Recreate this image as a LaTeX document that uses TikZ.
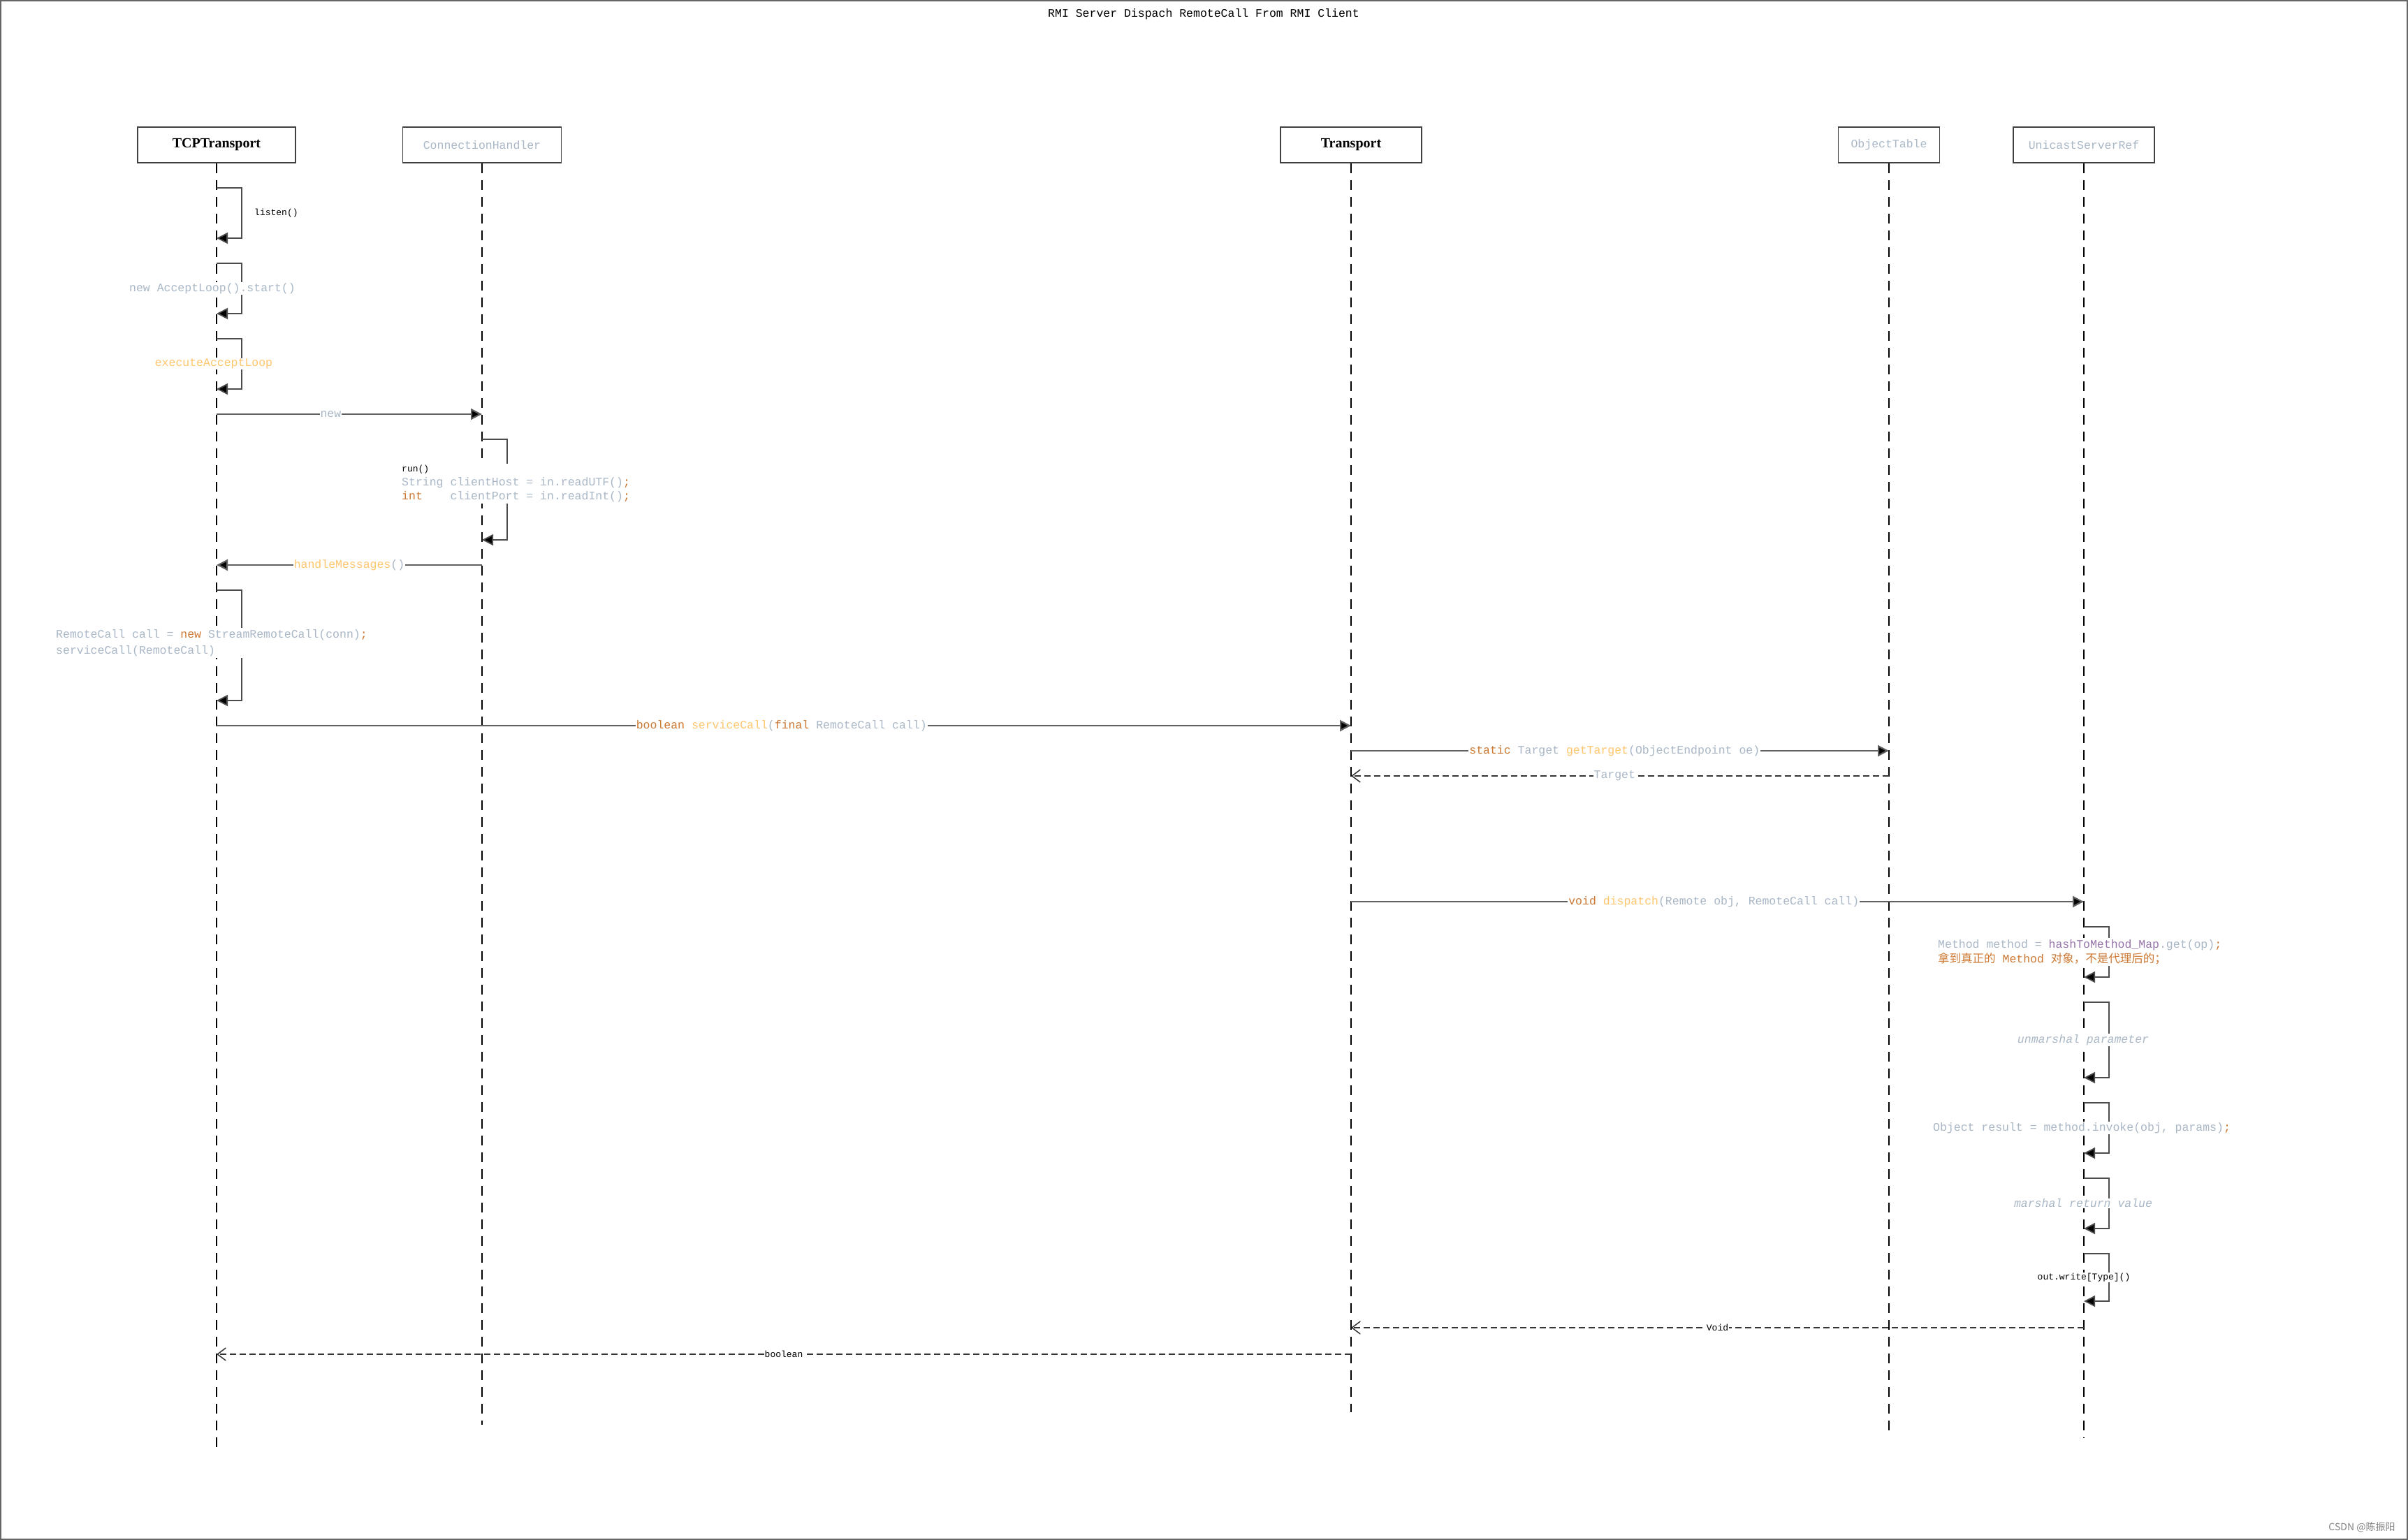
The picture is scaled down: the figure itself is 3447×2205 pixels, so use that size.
\documentclass[tikz,border=0pt]{standalone}
\usepackage{fontspec}
\setmainfont{Liberation Serif}
\setmonofont{Liberation Mono}
\newfontfamily\cjk{Noto Sans CJK SC}
\newfontfamily\wm{Noto Sans CJK SC}
\usetikzlibrary{arrows.meta}
\definecolor{cg}{HTML}{A9B7C6}
\definecolor{ck}{HTML}{CC7832}
\definecolor{cf}{HTML}{FFC66D}
\definecolor{cp}{HTML}{9876AA}
\definecolor{cline}{HTML}{606060}
\begin{document}
\begin{tikzpicture}[x=1pt,y=-1pt,
  hdr/.style={draw=black!75,line width=1.5pt,minimum height=51pt,inner sep=0pt},
  life/.style={draw=black,line width=2pt,dash pattern=on 14pt off 10pt},
  msg/.style={draw=cline,line width=2.2pt,-{Triangle[length=16pt,width=16pt,fill=black]}},
  ret/.style={draw=black!80,line width=2pt,dash pattern=on 9pt off 5pt,-{Straight Barb[length=12pt,width=18pt,line width=1.5pt]}},
  self/.style={draw=black!70,line width=1.8pt,-{Triangle[length=16pt,width=16pt,fill=black]}},
  lbl/.style={fill=white,inner sep=1pt,font=\fontsize{16.5}{20}\ttfamily},
  sml/.style={inner sep=1pt,font=\fontsize{13}{16}\ttfamily},
  code/.style={inner sep=0pt,font=\fontsize{16.5}{23}\ttfamily,align=left}]
\useasboundingbox (0,0) rectangle (3447,2205);
\draw[black!60,line width=2pt] (1,1) rectangle (3446,2204);
\node[font=\fontsize{16.5}{20}\ttfamily] (title) at (1723,20) {RMI Server Dispach RemoteCall From RMI Client};
% headers
\node[hdr,minimum width=226pt,font=\fontsize{20}{24}\bfseries] (tcp) at (310,207.5) {TCPTransport};
\node[hdr,minimum width=227pt,font=\fontsize{16.5}{20}\ttfamily,text=cg] (ch) at (690,207.5) {ConnectionHandler};
\node[hdr,minimum width=202pt,font=\fontsize{20}{24}\bfseries] (tr) at (1934,207.5) {Transport};
\node[hdr,minimum width=145pt,font=\fontsize{16.5}{20}\ttfamily,text=cg] (ot) at (2704,207.5) {ObjectTable};
\node[hdr,minimum width=202pt,font=\fontsize{16.5}{20}\ttfamily,text=cg] (usr) at (2983,207.5) {UnicastServerRef};
% lifeline ends
\coordinate (tcpE) at (310,2077);
\coordinate (chE) at (690,2040);
\coordinate (trE) at (1934,2022);
\coordinate (otE) at (2704,2051);
\coordinate (usrE) at (2983,2059);
\draw[life] (tcp.south) -- (tcpE);
\draw[life] (ch.south) -- (chE);
\draw[life] (tr.south) -- (trE);
\draw[life] (ot.south) -- (otE);
\draw[life] (usr.south) -- (usrE);
% TCP self calls
\foreach \a/\b/\n in {269/341/s1,377/449/s2,485/557/s3,845/1003/s4}{
  \coordinate (\n a) at (310,\a); \coordinate (\n b) at (310,\b);
  \draw[self] (\n a) -- ++(36,0) |- (\n b);}
\node[sml,anchor=west] (l1) at (363,305) {listen()};
\node[lbl,text=cg] (l2) at (304,413) {new AcceptLoop().start()};
\node[lbl,text=cf] (l3) at (306,521) {executeAcceptLoop};
\node[code,anchor=north west,fill=white,inner ysep=2pt] (l4) at (80,899) {\textcolor{cg}{RemoteCall call =\ }\textcolor{ck}{new}\textcolor{cg}{\ StreamRemoteCall(conn)}\textcolor{ck}{;}\\\textcolor{cg}{serviceCall(RemoteCall)}};
% new
\coordinate (n1) at (310,593); \coordinate (n2) at (690,593);
\draw[msg] (n1) -- node[lbl,text=cg,pos=0.43]{new} (n2);
% run
\coordinate (r1) at (690,629); \coordinate (r2) at (690,773);
\draw[self] (r1) -- ++(36,0) |- (r2);
\node[code,anchor=north west,fill=white,inner ysep=2pt] (rl) at (575,664) {\textcolor{black}{\fontsize{13}{16}\selectfont run()}\\[-3pt]\textcolor{cg}{String clientHost = in.readUTF()}\textcolor{ck}{;}\\[-3pt]\textcolor{ck}{int}\textcolor{cg}{\ \ \ \ clientPort = in.readInt()}\textcolor{ck}{;}};
% handleMessages
\coordinate (h1) at (690,809); \coordinate (h2) at (310,809);
\draw[msg] (h1) -- node[lbl,pos=0.5]{\textcolor{cf}{handleMessages}\textcolor{cg}{()}} (h2);
% serviceCall
\coordinate (b1) at (310,1039); \coordinate (b2) at (1934,1039);
\draw[msg] (b1) -- node[lbl,pos=0.498]{\textcolor{ck}{boolean\ }\textcolor{cf}{serviceCall}\textcolor{cg}{(}\textcolor{ck}{final\ }\textcolor{cg}{RemoteCall call)}} (b2);
% getTarget
\coordinate (g1) at (1934,1075); \coordinate (g2) at (2704,1075);
\draw[msg] (g1) -- node[lbl,pos=0.49]{\textcolor{ck}{static\ }\textcolor{cg}{Target\ }\textcolor{cf}{getTarget}\textcolor{cg}{(ObjectEndpoint oe)}} (g2);
\coordinate (t1) at (2704,1111); \coordinate (t2) at (1934,1111);
\draw[ret] (t1) -- node[lbl,text=cg,pos=0.51]{Target} (t2);
% dispatch
\coordinate (d1) at (1934,1291); \coordinate (d2) at (2983,1291);
\draw[msg] (d1) -- node[lbl,pos=0.495]{\textcolor{ck}{void\ }\textcolor{cf}{dispatch}\textcolor{cg}{(Remote obj, RemoteCall call)}} (d2);
% USR self calls
\foreach \a/\b/\n in {1327/1399/u1,1435/1543/u2,1579/1651/u3,1687/1759/u4,1795/1863/u5}{
  \coordinate (\n a) at (2983,\a); \coordinate (\n b) at (2983,\b);
  \draw[self] (\n a) -- ++(36,0) |- (\n b);}
\node[code,anchor=west,fill=white,inner ysep=2pt] (m1) at (2774,1363) {\textcolor{cg}{Method method =\ }\textcolor{cp}{hashToMethod\_Map}\textcolor{cg}{.get(op)}\textcolor{ck}{;}\\[-2pt]\textcolor{ck}{{\cjk 拿到真正的} Method {\cjk 对象，不是代理后的；}}};
\node[lbl,text=cg,font=\fontsize{16.5}{20}\ttfamily\itshape] (m2) at (2982,1489) {unmarshal parameter};
\node[lbl] (m3) at (2980,1615) {\textcolor{cg}{Object result = method.invoke(obj, params)}\textcolor{ck}{;}};
\node[lbl,text=cg,font=\fontsize{16.5}{20}\ttfamily\itshape] (m4) at (2982,1723) {marshal return value};
\node[sml,fill=white] (m5) at (2983,1829) {out.write[Type]()};
% returns
\coordinate (v1) at (2983,1901); \coordinate (v2) at (1934,1901);
\draw[ret] (v1) -- node[sml,fill=white,pos=0.5]{Void} (v2);
\coordinate (w1) at (1934,1939); \coordinate (w2) at (310,1939);
\draw[ret] (w1) -- node[sml,fill=white,pos=0.5]{boolean} (w2);
\node[font=\wm\fontsize{14}{16}\selectfont,text=black!50,anchor=east] (wmk) at (3432,2187) {CSDN @陈振阳};
\end{tikzpicture}
\end{document}
